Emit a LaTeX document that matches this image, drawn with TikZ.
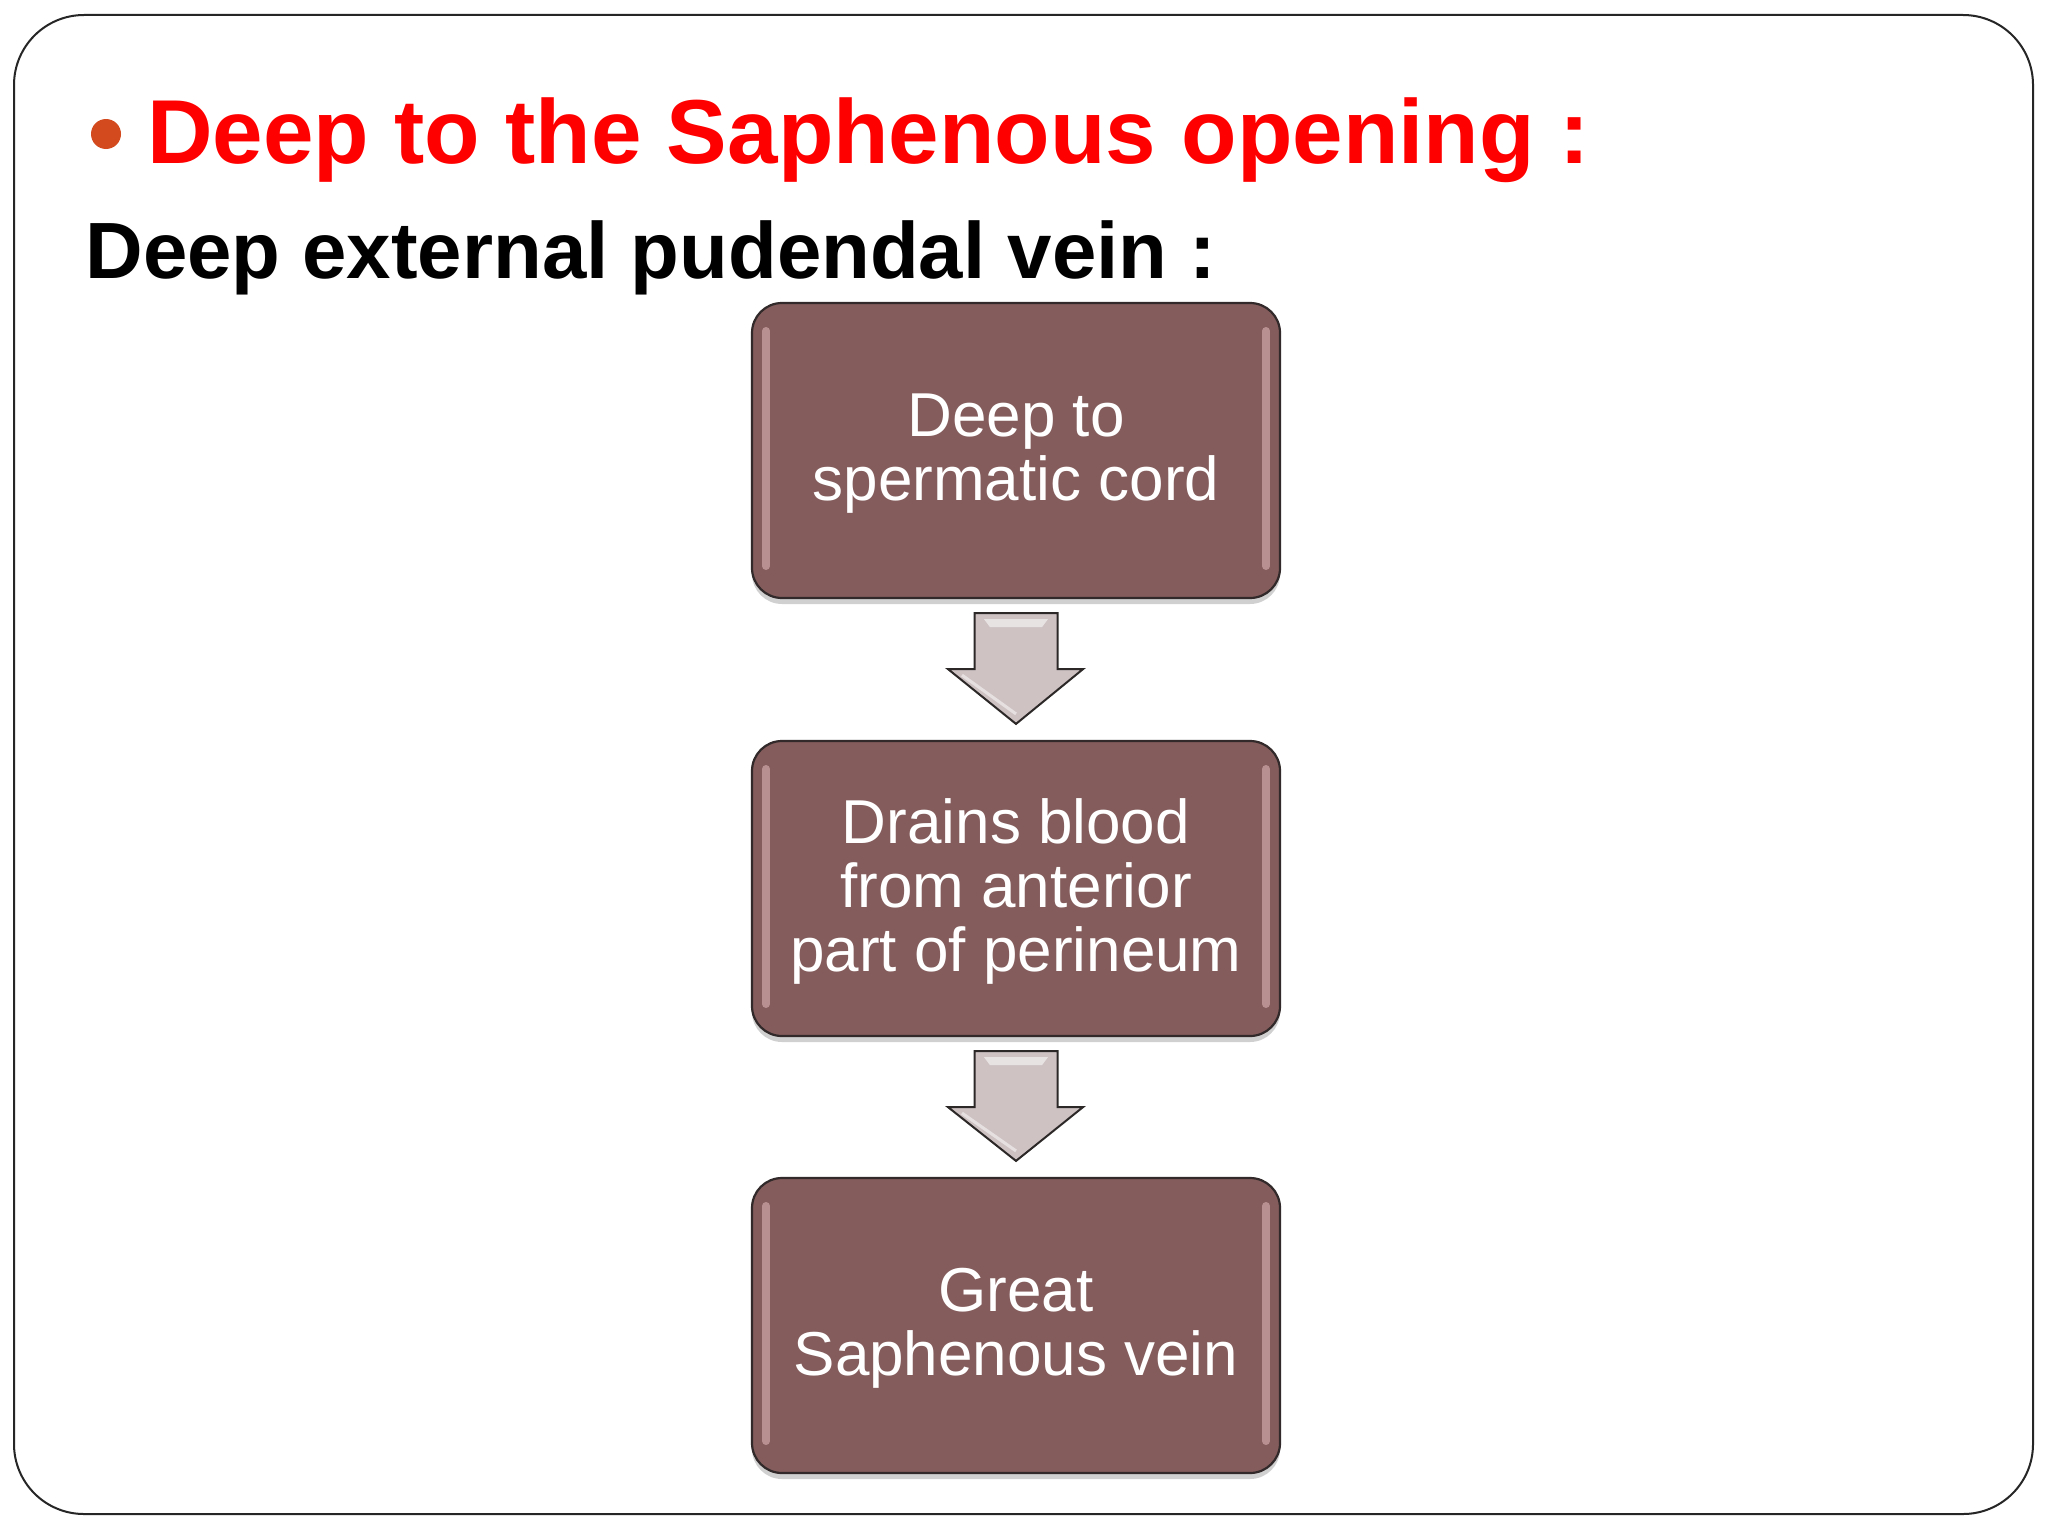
\documentclass[tikz,border=0pt]{standalone}
\usepackage{fontspec}
\setmainfont{Liberation Sans}
\usetikzlibrary{calc,shadows}
\definecolor{boxfill}{RGB}{132,92,92}
\definecolor{boxedge}{RGB}{50,42,42}
\definecolor{titlered}{RGB}{255,0,0}
\definecolor{bulletc}{RGB}{210,74,30}
\definecolor{arrowfill}{RGB}{206,194,195}
\definecolor{arrowedge}{RGB}{45,40,40}
\definecolor{glow}{RGB}{236,196,200}
\tikzset{
  stepbox/.style={draw=boxedge, line width=1.1pt, fill=boxfill, rounded corners=15pt,
    minimum width=264pt, minimum height=147.5pt, inner sep=0pt,
    drop shadow={shadow xshift=0pt, shadow yshift=-3pt, opacity=0.3, fill=black!60},
    path picture={
      \draw[glow, line width=4pt, line cap=round, opacity=0.5]
        ([xshift=7pt,yshift=-14pt]path picture bounding box.north west) --
        ([xshift=7pt,yshift=16pt]path picture bounding box.south west);
      \draw[glow, line width=4pt, line cap=round, opacity=0.5]
        ([xshift=-7pt,yshift=-14pt]path picture bounding box.north east) --
        ([xshift=-7pt,yshift=16pt]path picture bounding box.south east);
    }},
  boxtext/.style={text=white, align=center, inner sep=0pt,
    font=\fontsize{31}{32}\selectfont, yshift=-1.5pt},
  blockarrow/.style={draw=arrowedge, line width=1pt, fill=arrowfill, line join=miter},
  titletext/.style={anchor=base west, inner sep=0pt, text=titlered,
    font=\fontsize{45.4}{50}\selectfont\bfseries},
  subtext/.style={anchor=base west, inner sep=0pt, text=black,
    font=\fontsize{39.9}{44}\selectfont\bfseries}
}
\newcommand{\downarrowblock}[2]{%
  \path let \p1=(#1.south), \p2=(#2.north) in
    coordinate (s) at (\x1,\y1-7pt) coordinate (e) at (\x2,\y2+8pt);
  \draw[blockarrow] ($(s)+(-20.75pt,0)$) -- ($(s)+(20.75pt,0)$) -- ($(s)+(20.75pt,-28pt)$)
    -- ($(s)+(33.5pt,-28pt)$) -- (e) -- ($(s)+(-34pt,-28pt)$) -- ($(s)+(-20.75pt,-28pt)$) -- cycle;
  \fill[white, opacity=0.55] ($(s)+(-16pt,-3pt)$) -- ($(s)+(16pt,-3pt)$) -- ($(s)+(13pt,-7pt)$) -- ($(s)+(-13pt,-7pt)$) -- cycle;
  \draw[white, opacity=0.5, line width=1.5pt] ($(s)+(-27pt,-31pt)$) -- ($(e)+(0,5pt)$);
}
\begin{document}
\begin{tikzpicture}[x=0.5pt,y=-0.5pt]
\useasboundingbox (0,0) rectangle (2048,1536);
\fill[white] (0,0) rectangle (2048,1536);
\draw[black!85, line width=1pt, rounded corners=35pt] (14,15) rectangle (2033,1514);
\fill[bulletc] (106,134) circle[radius=7.5pt];
\node[titletext] (title) at (147,163) {Deep to the Saphenous opening :};
\node[subtext] (sub) at (85,278) {Deep external pudendal vein :};
\node[stepbox, label={[boxtext, name=t1]center:{Deep to\\spermatic cord}}] (b1) at (1016,450.5) {};
\node[stepbox, label={[boxtext, name=t2]center:{Drains blood\\from anterior\\part of perineum}}] (b2) at (1016,888.5) {};
\node[stepbox, label={[boxtext, name=t3]center:{Great\\Saphenous vein}}] (b3) at (1016,1325.5) {};
\downarrowblock{b1}{b2}
\downarrowblock{b2}{b3}
\end{tikzpicture}
\end{document}
